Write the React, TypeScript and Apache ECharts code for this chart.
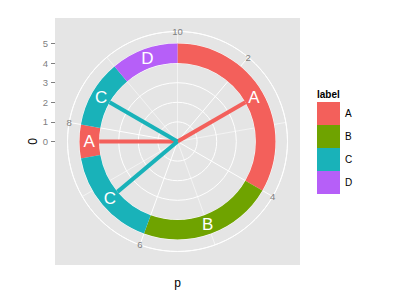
import React, { useEffect, useRef } from "react";
import * as echarts from "echarts";

// Segment data (theta axis runs from 1 to 10, clockwise from the top)
const segStart = [1, 4, 6, 7.5, 8, 9];
const segEnd = [4, 6, 7.5, 8, 9, 10];
const segLabel = ["A", "B", "C", "A", "C", "D"];
const segHasLine = [1, 0, 1, 1, 1, 0];

const labels = ["A", "B", "C", "D"];
const colors = ["#F3605B", "#6FA300", "#19B2B9", "#B65FF8"];

const thetaTicks = [2, 4, 6, 8, 10];
const radiusTicks = [0, 1, 2, 3, 4, 5];

const ringInner = 4;
const ringOuter = 5;
const labelRadius = 4.5;
const lineRadius = 4;
const radiusMax = 5.612;

const FONT = "Liberation Sans, Arial, sans-serif";

export default function App() {
  const ref = useRef<HTMLDivElement>(null);
  useEffect(() => {
    if (!ref.current) return;
    const chart = echarts.init(ref.current, null, { renderer: "svg" });

    const segSeries = labels.map((lab, li) => {
      const data: any[] = [];
      segLabel.forEach((s, i) => {
        if (s === lab) data.push({ value: [ringOuter, segStart[i], segEnd[i], segHasLine[i]] });
      });
      return {
        type: "custom",
        name: lab,
        coordinateSystem: "polar",
        itemStyle: { color: colors[li] },
        z: 3 + li,
        data,
        renderItem: (params: any, api: any) => {
          const cs = params.coordSys;
          const cx = cs.cx, cy = cs.cy;
          const a0 = api.value(1), a1 = api.value(2), hasLine = api.value(3);
          const color = api.visual("color");
          const pt = (r: number, a: number) => api.coord([r, a]);
          const dist = (p: number[]) => Math.hypot(p[0] - cx, p[1] - cy);
          const ang = (a: number) => {
            const p = pt(ringOuter, a);
            return Math.atan2(p[1] - cy, p[0] - cx);
          };
          const rOut = dist(pt(ringOuter, a0));
          const rIn = dist(pt(ringInner, a0));
          const sa = ang(a0);
          let ea = ang(a1);
          while (ea <= sa + 1e-6) ea += Math.PI * 2;
          const mid = (a0 + a1) / 2;
          const children: any[] = [
            {
              type: "sector",
              shape: { cx, cy, r: rOut, r0: rIn, startAngle: sa, endAngle: ea, clockwise: true },
              style: { fill: color },
            },
          ];
          if (hasLine) {
            const p0 = pt(0, mid);
            const p1 = pt(lineRadius, mid);
            children.push({
              type: "line",
              shape: { x1: p0[0], y1: p0[1], x2: p1[0], y2: p1[1] },
              style: { stroke: color, lineWidth: 4, lineCap: "butt" },
            });
          }
          const pl = pt(labelRadius, mid);
          children.push({
            type: "text",
            x: pl[0],
            y: pl[1],
            z2: 10,
            style: {
              text: lab,
              fill: "#ffffff",
              fontSize: 17,
              fontFamily: FONT,
              align: "center",
              verticalAlign: "middle",
            },
          });
          return { type: "group", children };
        },
      };
    });

    const thetaLabelSeries = {
      type: "custom",
      name: "thetaLabels",
      coordinateSystem: "polar",
      silent: true,
      z: 2,
      data: thetaTicks.map((v) => ({ value: [radiusMax, v] })),
      renderItem: (params: any, api: any) => {
        const v = api.value(1);
        const p = api.coord([radiusMax, v]);
        return {
          type: "text",
          x: p[0],
          y: p[1],
          style: {
            text: String(v),
            fill: "#7F7F7F",
            fontSize: 9.5,
            fontFamily: FONT,
            align: "center",
            verticalAlign: "middle",
          },
        };
      },
    };

    chart.setOption({
      animation: false,
      textStyle: { fontFamily: FONT },
      polar: { center: [177.5, 141.5], radius: 110 },
      angleAxis: {
        type: "value",
        min: 1,
        max: 10,
        interval: 1,
        startAngle: 90,
        clockwise: true,
        axisLine: { show: true, lineStyle: { color: "#ffffff", width: 1 } },
        axisTick: { show: false },
        axisLabel: { show: false },
        splitLine: {
          show: true,
          lineStyle: { color: ["rgba(255,255,255,0.55)", "#ffffff"], width: 1 },
        },
      },
      radiusAxis: {
        type: "value",
        min: 0,
        max: radiusMax,
        interval: 1,
        axisLine: { show: false },
        axisTick: { show: false },
        axisLabel: { show: false },
        splitLine: { show: true, lineStyle: { color: "#ffffff", width: 1 } },
      },
      grid: { left: 55, top: 43.5, width: 245, height: 98 },
      xAxis: { type: "value", show: false, min: 0, max: 1 },
      yAxis: {
        type: "value",
        min: 0,
        max: 5,
        interval: 1,
        data: radiusTicks,
        axisLine: { show: false },
        axisTick: { show: true, length: 4, lineStyle: { color: "#7F7F7F" } },
        axisLabel: { color: "#7F7F7F", fontSize: 9.5, margin: 7, fontFamily: FONT },
        splitLine: { show: false },
      },
      legend: {
        orient: "vertical",
        left: 317,
        top: 102,
        padding: 0,
        itemWidth: 23,
        itemHeight: 23,
        itemGap: 0,
        icon: "rect",
        data: labels,
        textStyle: { fontSize: 10, color: "#000000", fontFamily: FONT },
        selectedMode: false,
      },
      graphic: [
        {
          type: "rect",
          z: -10,
          shape: { x: 55, y: 18, width: 245, height: 247 },
          style: { fill: "#E5E5E5" },
          silent: true,
        },
        {
          type: "text",
          x: 317,
          y: 94,
          style: {
            text: "label",
            fontSize: 10,
            fontWeight: "bold",
            fill: "#000000",
            fontFamily: FONT,
            align: "left",
            verticalAlign: "middle",
          },
        },
        {
          type: "text",
          x: 33,
          y: 141.5,
          rotation: Math.PI / 2,
          style: {
            text: "0",
            fontSize: 12,
            fill: "#000000",
            fontFamily: FONT,
            align: "center",
            verticalAlign: "middle",
          },
        },
        {
          type: "text",
          x: 177.5,
          y: 283,
          style: {
            text: "p",
            fontSize: 12,
            fill: "#000000",
            fontFamily: FONT,
            align: "center",
            verticalAlign: "middle",
          },
        },
      ],
      series: [thetaLabelSeries, ...segSeries],
    });
    return () => chart.dispose();
  }, []);
  return <div ref={ref} style={{ width: 400, height: 300, position: "absolute", left: 0, top: 0 }} />;
}
